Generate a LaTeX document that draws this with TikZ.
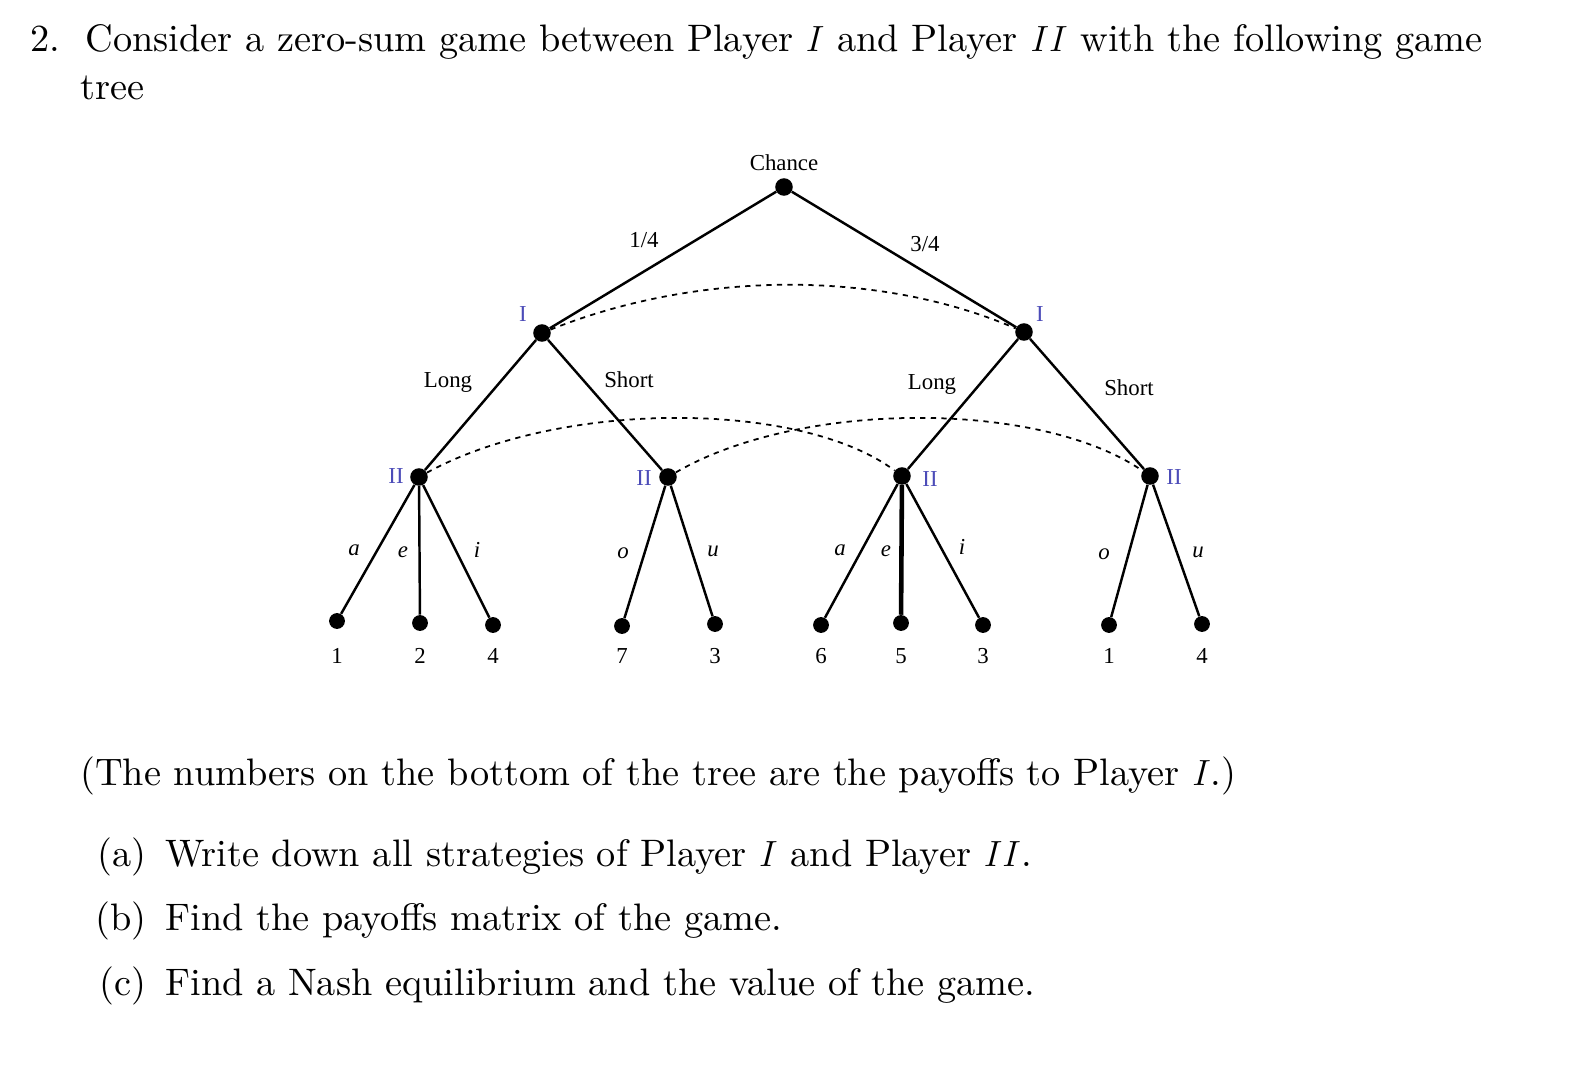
\documentclass[tikz,border=0pt]{standalone}
\usepackage{fontspec}
\newfontfamily\tms{Liberation Serif}
\newfontfamily\lmten{lmroman10-regular.otf}[ItalicFont=lmroman10-italic.otf]
\begin{document}
\begin{tikzpicture}[x=0.02cm,y=-0.02cm,
  dot/.style={circle,fill=black,inner sep=0pt,minimum size=10pt},
  ed/.style={line width=1.4pt},
  arc/.style={dashed,line width=1pt},
  lab/.style={font=\tms\fontsize{13}{15}\selectfont},
  pl/.style={lab,text=blue!60!black!70!white},
  el/.style={font=\tms\itshape\fontsize{13}{15}\selectfont},
  big/.style={font=\lmten\fontsize{21.8}{26}\selectfont,anchor=base west,inner sep=0pt}]
\useasboundingbox (0,0) rectangle (1582,1070);
\node[big] at (30,52) {2.\ \ Consider a zero-sum game between Player $I$ and Player $II$ with the following game};
\node[big] at (80,100) {tree};
\node[big] at (80,785) {(The numbers on the bottom of the tree are the payoffs to Player $I$.)};
\node[big] at (97,866) {(a)};\node[big] at (165,866) {Write down all strategies of Player $I$ and Player $II$.};
\node[big] at (95,930) {(b)};\node[big] at (165,930) {Find the payoffs matrix of the game.};
\node[big] at (99,995) {(c)};\node[big] at (165,995) {Find a Nash equilibrium and the value of the game.};
% nodes
\node[dot] (c) at (784,187) {};
\node[lab] at (784,163) {Chance};
\node[dot] (L) at (542,333) {};
\node[dot] (R) at (1024,332) {};
\node[pl] at (523,314) {I};\node[pl] at (1040,314) {I};
\node[lab] at (644,240) {1/4};\node[lab] at (925,244) {3/4};
\draw[ed] (c)--(L); \draw[ed] (c)--(R);
\draw[arc] (L) .. controls (700,270) and (880,270) .. (R);
\node[dot] (A) at (419,477) {};
\node[dot] (B) at (668,477) {};
\node[dot] (C) at (902,476) {};
\node[dot] (D) at (1150,476) {};
\draw[ed] (L)--(A); \draw[ed] (L)--(B); \draw[ed] (R)--(C); \draw[ed] (R)--(D);
\node[lab] at (448,382) {Long};\node[lab] at (629,380) {Short};
\node[lab] at (932,384) {Long};\node[lab] at (1129,388) {Short};
\draw[arc] (A) .. controls (560,400) and (800,400) .. (C);
\draw[arc] (B) .. controls (800,400) and (1040,400) .. (D);
\node[pl] at (396,476) {II};\node[pl] at (644,478) {II};
\node[pl] at (930,479) {II};\node[pl] at (1174,477) {II};
% leaves
\foreach \n/\x/\y/\v/\p in {a1/337/621/1/A,a2/420/623/2/A,a3/493/625/4/A,b1/622/626/7/B,b2/715/624/3/B,c1/821/625/6/C,c2/901/623/5/C,c3/983/625/3/C,d1/1109/625/1/D,d2/1202/624/4/D}{
  \node[dot,minimum size=9pt] (\n) at (\x,\y) {};
  \draw[ed] (\p)--(\n);
  \node[lab] at (\x,656) {\v};}
\draw[line width=2.6pt] (C)--(c2);
\foreach \t/\x/\y in {a/354/550,e/403/552,i/477/550,o/623/553,u/713/551,a/840/550,e/886/551,i/962/547,o/1104/554,u/1198/552}
  \node[el] at (\x,\y) {\t};
\end{tikzpicture}
\end{document}
